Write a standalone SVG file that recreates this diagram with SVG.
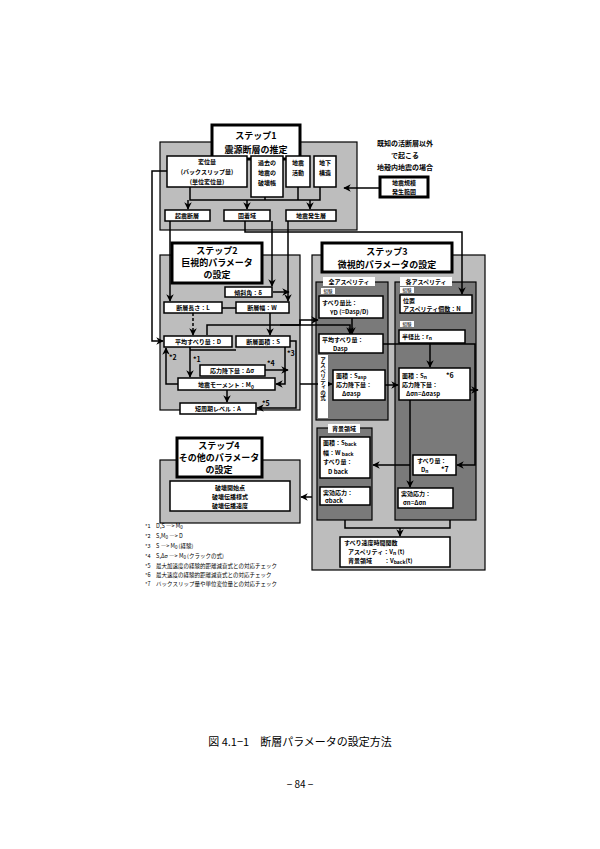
<svg xmlns="http://www.w3.org/2000/svg" width="600" height="849" viewBox="0 0 600 849">
<defs>
<marker id="ar" viewBox="0 0 10 10" refX="9" refY="5" markerWidth="5" markerHeight="5" orient="auto"><path d="M0,0 L10,5 L0,10 L3,5 z" fill="#000"/></marker>
</defs>
<style>
text{font-family:"Noto Sans CJK JP","Liberation Sans",sans-serif;fill:#000}
.b{fill:#fff;stroke:#000;stroke-width:1.5}
.t{fill:#fff;stroke:#000;stroke-width:3}
.p{fill:#bdbdbd;stroke:#000;stroke-width:1.2}
.d{fill:#7a7a7a;stroke:#000;stroke-width:1.2}
.s{font-size:6px;font-weight:bold}
.m{font-size:7px;font-weight:bold}
.h{font-size:9px;font-weight:bold}
.f{font-size:5.5px}
.c line,.c path{stroke:#000;stroke-width:1.5;fill:none}
</style>
<rect width="600" height="849" fill="#fff"/>
<rect class="p" x="160" y="142" width="197" height="88"/>
<rect class="p" x="160" y="255" width="140" height="155"/>
<rect class="p" x="312" y="255" width="173" height="315" fill="#c4c4c4"/>
<rect class="d" x="316" y="282" width="72" height="138"/>
<rect class="d" x="395" y="282" width="81" height="238"/>
<rect class="d" x="317" y="428" width="55" height="92"/>
<rect class="p" x="160" y="460" width="140" height="63"/>
<g class="c">
<path d="M190,187 V200 H320 V187"/><line x1="265" y1="197" x2="265" y2="200"/><line x1="298" y1="187" x2="298" y2="200"/>
<line x1="188" y1="200" x2="188" y2="209" marker-end="url(#ar)"/><line x1="247" y1="200" x2="247" y2="209" marker-end="url(#ar)"/><line x1="310" y1="200" x2="310" y2="209" marker-end="url(#ar)"/>
<line x1="380" y1="188" x2="344" y2="188" marker-end="url(#ar)"/>
<path d="M167,171 H152 V341 H163" marker-end="url(#ar)"/>
<path d="M170,221 V301" marker-end="url(#ar)"/>
<path d="M272,221 V286" marker-end="url(#ar)"/>
<path d="M288,221 V301" marker-end="url(#ar)"/>
<path d="M245,221 V232 H462 V294" marker-end="url(#ar)"/>
<path d="M273,292 H289" marker-end="url(#ar)"/>
<path d="M193,313 V335" stroke-dasharray="3,2" marker-end="url(#ar)"/>
<path d="M222,308 H270 V335" marker-end="url(#ar)"/>
<path d="M207,335 V325 H300 V320 H318" marker-end="url(#ar)"/>
<path d="M280,325 H350 V334" marker-end="url(#ar)"/>
<path d="M190,347 V377" marker-end="url(#ar)"/>
<path d="M236,350 H190"/>
<path d="M265,370 H288" marker-end="url(#ar)"/>
<path d="M285,347 V384 H276" marker-end="url(#ar)"/>
<path d="M290,341 H296 V408 H257" marker-end="url(#ar)"/>
<path d="M178,384 H166 V348" marker-end="url(#ar)"/>
<path d="M227,390 V402" marker-end="url(#ar)"/>
<path d="M300,384 H332" marker-end="url(#ar)"/>
<path d="M352,318 V334" marker-end="url(#ar)"/>
<path d="M383,344 H475 V430"/>
<path d="M430,343 V367" marker-end="url(#ar)"/>
<path d="M385,385 H398" marker-end="url(#ar)"/>
<path d="M470,390 H478" marker-end="url(#ar)"/>
<path d="M475,430 V465 H457" marker-end="url(#ar)"/>
<path d="M410,400 V487" marker-end="url(#ar)"/>
<path d="M410,465 H373" marker-end="url(#ar)"/>
<path d="M345,520 V528 H450 V520"/><line x1="400" y1="528" x2="400" y2="536" marker-end="url(#ar)"/>
<path d="M312,497 H301" marker-end="url(#ar)"/>
</g>
<g id="step1">
<rect class="t" x="212" y="125" width="88" height="34"/>
<text class="h" x="256" y="139" text-anchor="middle">ステップ1</text>
<text class="h" x="256" y="153" text-anchor="middle">震源断層の推定</text>
<rect class="b" x="167" y="156" width="80" height="31"/>
<text class="s" x="207" y="164" text-anchor="middle">変位量</text><text class="s" x="207" y="174" text-anchor="middle">(バックスリップ量)</text><text class="s" x="207" y="184" text-anchor="middle">(単位変位量)</text>
<rect class="b" x="251" y="156" width="32" height="41"/>
<text class="s" x="267" y="165" text-anchor="middle">過去の</text><text class="s" x="267" y="175" text-anchor="middle">地震の</text><text class="s" x="267" y="185" text-anchor="middle">破壊帳</text>
<rect class="b" x="286" y="156" width="24" height="31"/>
<text class="s" x="298" y="165" text-anchor="middle">地震</text><text class="s" x="298" y="175" text-anchor="middle">活動</text>
<rect class="b" x="314" y="156" width="22" height="31"/>
<text class="s" x="325" y="165" text-anchor="middle">地下</text><text class="s" x="325" y="175" text-anchor="middle">構造</text>
<rect class="b" x="165" y="210" width="45" height="11"/><text class="s" x="187" y="218" text-anchor="middle">起震断層</text>
<rect class="b" x="224" y="210" width="46" height="11"/><text class="s" x="247" y="218" text-anchor="middle">固着域</text>
<rect class="b" x="286" y="210" width="50" height="11"/><text class="s" x="311" y="218" text-anchor="middle">地震発生層</text>
</g>
<g id="ext">
<text class="m" x="405" y="146" text-anchor="middle" font-size="8">既知の活断層以外</text>
<text class="m" x="405" y="158" text-anchor="middle" font-size="8">で起こる</text>
<text class="m" x="405" y="170" text-anchor="middle" font-size="8">地殻内地震の場合</text>
<rect class="t" x="380" y="177" width="48" height="20" stroke-width="2"/>
<text class="s" x="404" y="185" text-anchor="middle">地震規模</text><text class="s" x="404" y="194" text-anchor="middle">発生範囲</text>
</g>
<g id="step2">
<rect class="t" x="172" y="243" width="90" height="40"/>
<text class="h" x="217" y="254" text-anchor="middle">ステップ2</text>
<text class="h" x="217" y="266" text-anchor="middle">巨視的パラメータ</text>
<text class="h" x="217" y="278" text-anchor="middle">の設定</text>
<rect class="b" x="225" y="287" width="47" height="10"/><text class="s" x="248" y="295" text-anchor="middle">傾斜角：δ</text>
<rect class="b" x="164" y="302" width="58" height="11"/><text class="s" x="193" y="310" text-anchor="middle">断層長さ：L</text>
<rect class="b" x="236" y="302" width="53" height="11"/><text class="s" x="262" y="310" text-anchor="middle">断層幅：W</text>
<rect class="b" x="164" y="336" width="68" height="11"/><text class="s" x="198" y="344" text-anchor="middle">平均すべり量：D</text>
<rect class="b" x="236" y="336" width="54" height="11"/><text class="s" x="263" y="344" text-anchor="middle">断層面積：S</text>
<rect class="b" x="200" y="365" width="65" height="11"/><text class="s" x="232" y="373" text-anchor="middle">応力降下量：Δσ</text>
<rect class="b" x="178" y="378" width="97" height="12"/><text class="s" x="226" y="387" text-anchor="middle">地震モーメント：M<tspan font-size="5" dy="2">0</tspan></text>
<rect class="b" x="180" y="403" width="76" height="11"/><text class="s" x="218" y="411" text-anchor="middle">短周期レベル：A</text>
<text class="m" x="169" y="360">*2</text><text class="m" x="193" y="362">*1</text><text class="m" x="287" y="356">*3</text><text class="m" x="267" y="366">*4</text><text class="m" x="262" y="406">*5</text>
</g>
<g id="step3">
<rect class="t" x="322" y="243" width="130" height="29"/>
<text class="h" x="387" y="255" text-anchor="middle">ステップ3</text>
<text class="h" x="387" y="268" text-anchor="middle">微視的パラメータの設定</text>
<rect x="323" y="277" width="52" height="9" fill="#fff"/><text class="s" x="349" y="284" text-anchor="middle">全アスペリティ</text>
<rect x="400" y="277" width="52" height="9" fill="#fff"/><text class="s" x="426" y="284" text-anchor="middle">各アスペリティ</text>
<rect x="321" y="288" width="14" height="6" fill="#fff"/><text x="328" y="293" font-size="4.5" text-anchor="middle">組験</text>
<rect x="400" y="287" width="14" height="6" fill="#fff"/><text x="407" y="292" font-size="4.5" text-anchor="middle">組験</text>
<rect x="400" y="321" width="14" height="6" fill="#fff"/><text x="407" y="326" font-size="4.5" text-anchor="middle">組験</text>
<rect class="b" x="319" y="296" width="64" height="22"/><text class="s" x="322" y="305">すべり量比：</text><text class="s" x="330" y="314" font-size="5">γ<tspan dy="1">D</tspan><tspan dy="-1"> (=Dasp/D)</tspan></text>
<rect class="b" x="319" y="334" width="64" height="19"/><text class="s" x="322" y="341.5">平均すべり量：</text><text class="s" x="333" y="350.5">Dasp</text>
<rect x="318" y="355" width="10" height="63" fill="#fff"/>
<text x="323" y="357" font-size="5.5" font-weight="bold" writing-mode="tb" glyph-orientation-vertical="0">アスペリティの式</text>
<rect class="b" x="333" y="370" width="52" height="30"/><text class="s" x="336" y="378">面積：S<tspan font-size="5" dy="1">asp</tspan></text><text class="s" x="336" y="387">応力降下量：</text><text class="s" x="342" y="396" font-size="5">Δσasp</text>
<rect class="b" x="400" y="295" width="72" height="18"/><text class="s" x="403" y="302.5" font-size="5">位置</text><text class="s" x="403" y="310.5" font-size="5">アスペリティ個数：N</text>
<rect class="b" x="399" y="330" width="66" height="13"/><text class="s" x="402" y="339">半径比：r<tspan font-size="5" dy="1">n</tspan></text>
<rect class="b" x="399" y="368" width="71" height="32"/><text class="s" x="402" y="378">面積：S<tspan font-size="5" dy="1">n</tspan></text><text class="m" x="446" y="378">*6</text><text class="s" x="402" y="387">応力降下量：</text><text class="s" x="406" y="396" font-size="5">Δσn=Δσasp</text>
<rect class="b" x="413" y="455" width="43" height="20"/><text class="s" x="417" y="463">すべり量：</text><text class="s" x="421" y="472">D<tspan font-size="5" dy="1">n</tspan></text><text class="m" x="441" y="472">*7</text>
<rect class="b" x="398" y="488" width="55" height="20"/><text class="s" x="401" y="496">実効応力：</text><text class="s" x="403" y="505" font-size="5">σn=Δσn</text>
<rect x="328" y="424" width="32" height="9" fill="#fff"/><text class="s" x="344" y="431" text-anchor="middle">背景領域</text>
<rect class="b" x="320" y="437" width="50" height="41"/><text class="s" x="323" y="445">面積：S<tspan font-size="5" dy="1">back</tspan></text><text class="s" x="323" y="455">幅：W <tspan font-size="5" dy="1">back</tspan></text><text class="s" x="323" y="464">すべり量：</text><text class="s" x="328" y="474" font-size="5">D back</text>
<rect class="b" x="320" y="487" width="50" height="18"/><text class="s" x="323" y="495">実効応力：</text><text class="s" x="325" y="503" font-size="5">σback</text>
<rect class="b" x="340" y="537" width="110" height="30"/><text class="s" x="344" y="545">すべり速度時間関数</text><text class="s" x="348" y="554">アスペリティ：V<tspan font-size="5" dy="1">n</tspan><tspan dy="-1"> (t)</tspan></text><text class="s" x="348" y="563">背景領域　　：V<tspan font-size="5" dy="1">back</tspan><tspan dy="-1">(t)</tspan></text>
</g>
<g id="step4">
<rect class="t" x="177" y="438" width="85" height="39"/>
<text class="h" x="219" y="449" text-anchor="middle">ステップ4</text>
<text class="h" x="219" y="461" text-anchor="middle" font-size="8.5">その他のパラメータ</text>
<text class="h" x="219" y="473" text-anchor="middle">の設定</text>
<rect class="b" x="170" y="481" width="120" height="30"/>
<text class="s" x="230" y="490" text-anchor="middle">破壊開始点</text><text class="s" x="230" y="499" text-anchor="middle">破壊伝播様式</text><text class="s" x="230" y="508" text-anchor="middle">破壊伝播速度</text>
</g>
<g id="notes">
<text x="145" y="528" class="f">*1　D,S ―&gt; M<tspan dy="1" font-size="4.5">0</tspan></text>
<text x="145" y="538" class="f">*2　S,M<tspan dy="1" font-size="4.5">0</tspan><tspan dy="-1"> ―&gt; D</tspan></text>
<text x="145" y="548" class="f">*3　S ―&gt; M<tspan dy="1" font-size="4.5">0</tspan><tspan dy="-1"> (経験)</tspan></text>
<text x="145" y="558" class="f">*4　S,Δσ ―&gt; M<tspan dy="1" font-size="4.5">0</tspan><tspan dy="-1"> (クラックの式)</tspan></text>
<text x="145" y="568" class="f">*5　最大加速度の経験的距離減衰式との対応チェック</text>
<text x="145" y="577" class="f">*6　最大速度の経験的距離減衰式との対応チェック</text>
<text x="145" y="586" class="f">*7　バックスリップ量や単位変位量との対応チェック</text>
</g>
<text x="300" y="746" font-size="11" text-anchor="middle">図 4.1−1　断層パラメータの設定方法</text>
<text x="300" y="788" font-size="10" text-anchor="middle" font-family="Liberation Serif,serif">− 84 −</text>
</svg>
